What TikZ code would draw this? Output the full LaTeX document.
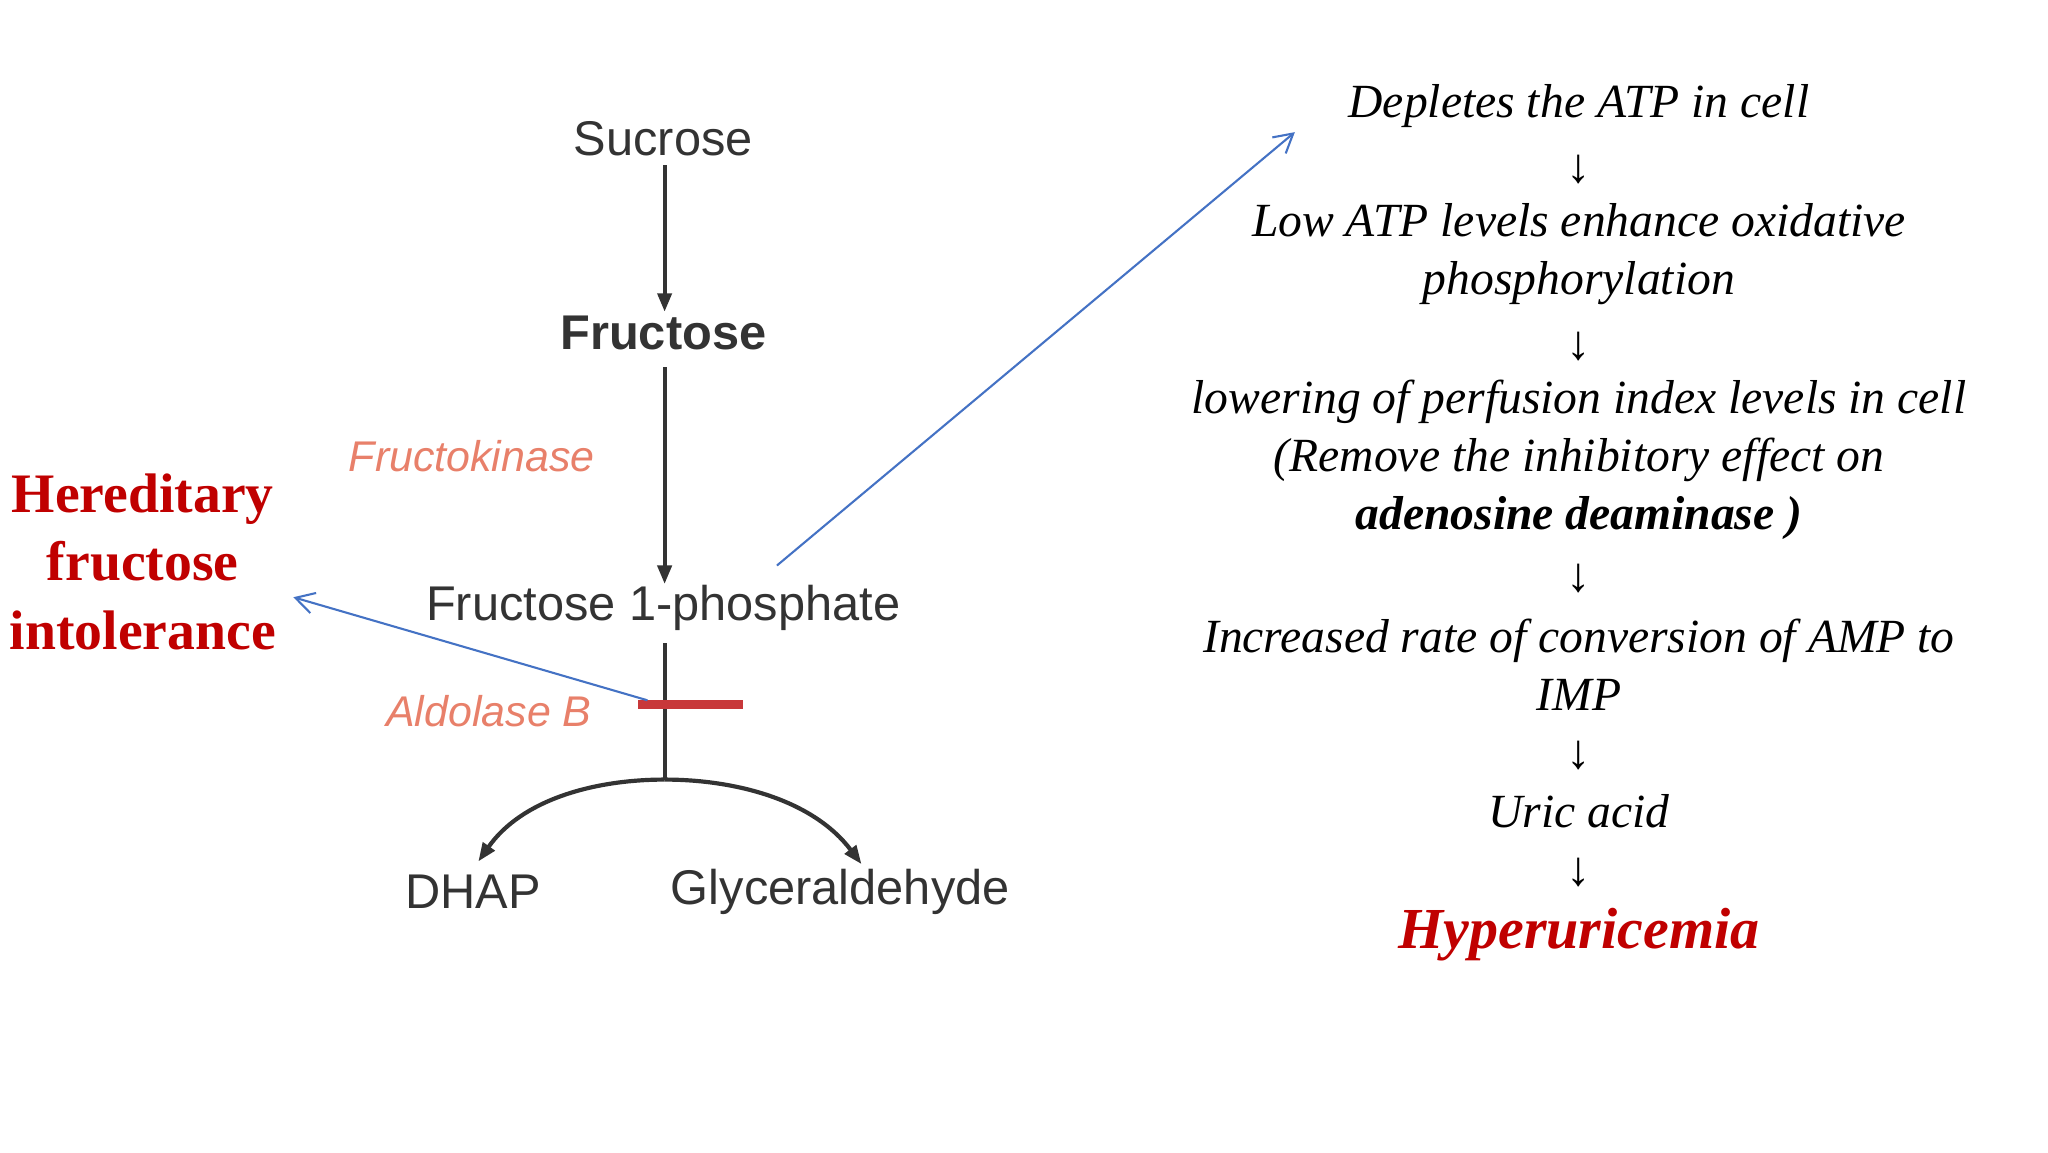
\documentclass[tikz,border=0pt]{standalone}
\usepackage{fontspec}
\setmainfont{Liberation Serif}
\newfontfamily\arialf{Liberation Sans}
\usetikzlibrary{arrows.meta}
\definecolor{txtgray}{HTML}{333333}
\definecolor{enz}{HTML}{E8806A}
\definecolor{hred}{HTML}{C00000}
\definecolor{lblue}{HTML}{4472C4}
\definecolor{barred}{HTML}{C8383A}
\begin{document}
\begin{tikzpicture}[x=0.02cm,y=-0.02cm,
  met/.style={font=\arialf\fontsize{21}{24}\selectfont,text=txtgray},
  enzt/.style={font=\arialf\itshape\fontsize{18.5}{22}\selectfont,text=enz},
  rt/.style={font=\itshape\fontsize{20.5}{25}\selectfont,align=center},
  da/.style={font=\fontsize{21}{25}\selectfont},
  rx/.style={line width=1.8pt,draw=txtgray,-{Triangle[length=8pt,width=6pt]}},
  bl/.style={draw=lblue,line width=0.9pt,-{Straight Barb[length=8pt,width=9pt]}}]
\useasboundingbox (0,0) rectangle (1550,872);
\node[met] (suc) at (502,105) {Sucrose};
\node[met,font=\arialf\bfseries\fontsize{21}{24}\selectfont] (fru) at (502,252) {Fructose};
\node[enzt] (fk) at (357,345) {Fructokinase};
\node[met] (f1p) at (502,460) {Fructose 1-phosphate};
\node[enzt] (ab) at (370,538) {Aldolase B};
\node[met] (dhap) at (358,675) {DHAP};
\node[met] (gly) at (636,675) {Glyceraldehyde};
\coordinate (s1) at (503,125); \coordinate (s2) at (503,236);
\coordinate (f1) at (503,278); \coordinate (f2) at (503,442);
\coordinate (p1) at (503,487); \coordinate (p2) at (503,590);
\coordinate (bar1) at (483,533); \coordinate (bar2) at (562,533);
\coordinate (dl) at (362,652); \coordinate (gr) at (652,654);
\draw[rx] (s1) -- (s2);
\draw[rx] (f1) -- (f2);
\draw[line width=1.8pt,draw=txtgray] (p1) -- (p2);
\draw[rx] (p2) .. controls (450,590) and (395,605) .. (dl);
\draw[rx] (p2) .. controls (556,590) and (615,605) .. (gr);
\draw[line width=4pt,draw=barred] (bar1) -- (bar2);
\node[font=\bfseries\fontsize{24}{29.5}\selectfont,text=hred,align=center] (hfi) at (108,425) {Hereditary\\fructose\\intolerance};
\coordinate (b1) at (490,530); \coordinate (b1e) at (222,452);
\coordinate (b2) at (588,428); \coordinate (b2e) at (980,100);
\draw[bl] (b1) -- (b1e);
\draw[bl] (b2) -- (b2e);
\node[rt] (r1) at (1195,80) {Depletes the ATP in cell};
\node[da] (a1) at (1195,128) {↓};
\node[rt] (r2) at (1195,192) {Low ATP levels enhance oxidative\\phosphorylation};
\node[da] (a2) at (1195,262) {↓};
\node[rt] (r3) at (1195,348) {lowering of perfusion index levels in cell\\(Remove the inhibitory effect on\\\textbf{adenosine deaminase )}};
\node[da] (a3) at (1195,438) {↓};
\node[rt] (r4) at (1195,503) {Increased rate of conversion of AMP to\\IMP};
\node[da] (a4) at (1195,572) {↓};
\node[rt] (r5) at (1195,614) {Uric acid};
\node[da] (a5) at (1195,660) {↓};
\node[rt,font=\bfseries\itshape\fontsize{25}{30}\selectfont,text=hred] (r6) at (1195,707) {Hyperuricemia};
\end{tikzpicture}
\end{document}
